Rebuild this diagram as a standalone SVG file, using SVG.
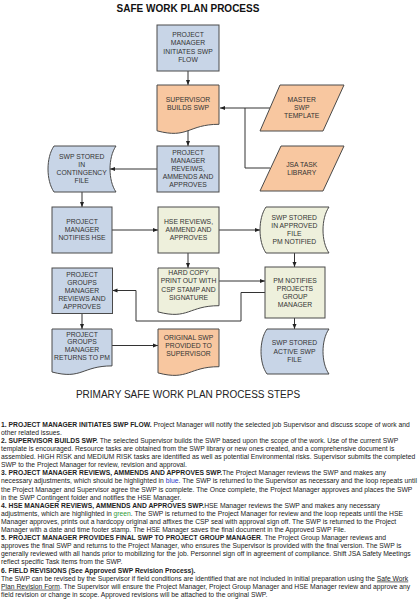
<svg xmlns="http://www.w3.org/2000/svg" width="419" height="600" viewBox="0 0 419 600">
<defs>
<marker id="ah" viewBox="0 0 10 10" refX="10" refY="5" markerWidth="5" markerHeight="5" markerUnits="userSpaceOnUse" orient="auto"><path d="M0,1 L10,5 L0,9 z" fill="#222"/></marker>
<style>
.b{fill:#c8d5e7;stroke:#4a4a4a;stroke-width:1}
.o{fill:#f8c7a0;stroke:#4a4a4a;stroke-width:1}
.g{fill:#eef0dc;stroke:#4a4a4a;stroke-width:1}
.t{font-family:"Liberation Sans",Arial,sans-serif;font-size:6.8px;fill:#333;text-anchor:middle}
.c{fill:none;stroke:#333;stroke-width:1}
.a{marker-end:url(#ah)}
.body{font-family:"Liberation Sans",Arial,sans-serif;font-size:6.75px;fill:#222;white-space:pre}
.bd{font-weight:bold}
</style>
</defs>
<rect width="419" height="600" fill="#fff"/>
<text x="188" y="11.5" font-family="Liberation Sans,Arial,sans-serif" font-size="10" font-weight="bold" fill="#111" text-anchor="middle">SAFE WORK PLAN PROCESS</text>

<g id="connectors">
<path class="c a" d="M188,71 V85"/>
<path class="c a" d="M270,108 H220"/>
<path class="c" d="M245,108 V168 H270"/>
<path class="c a" d="M188,128 V146"/>
<path class="c a" d="M157,169 H110"/>
<path class="c a" d="M82,192 V207"/>
<path class="c a" d="M112,230 H158"/>
<path class="c a" d="M219,230 H260"/>
<path class="c a" d="M188,253 V268"/>
<path class="c a" d="M294.5,253 V267"/>
<path class="c a" d="M219,281 H265"/>
<path class="c a" d="M265,292.5 H241 V321 H136 V290.5 H112.5"/>
<path class="c a" d="M82,313 V329"/>
<path class="c a" d="M112,345.5 H158"/>
<path class="c a" d="M294.5,318 V329"/>
</g>

<g id="n1">
<rect class="b" x="157" y="25" width="62" height="46"/>
<text class="t" x="188"><tspan x="188" y="37.2">PROJECT</tspan><tspan x="188" y="45.4">MANAGER</tspan><tspan x="188" y="53.6">INITIATES SWP</tspan><tspan x="188" y="61.8">FLOW</tspan></text>
</g>
<g id="n2">
<path class="o" d="M157,85 H219 V124.3 C188,124.3 188,139.2 157,130.8 Z"/>
<text class="t"><tspan x="188" y="101.5">SUPERVISOR</tspan><tspan x="188" y="109.7">BUILDS SWP</tspan></text>
</g>
<g id="n3">
<path class="o" d="M280,85 H344 L323,131 H260 Z"/>
<text class="t"><tspan x="301.7" y="101.8">MASTER</tspan><tspan x="301.7" y="110">SWP</tspan><tspan x="301.7" y="118.2">TEMPLATE</tspan></text>
</g>
<g id="n4">
<rect class="b" x="157" y="146" width="62" height="46"/>
<text class="t"><tspan x="188" y="155.2">PROJECT</tspan><tspan x="188" y="163.2">MANAGER</tspan><tspan x="188" y="171.2">REVEIWS,</tspan><tspan x="188" y="179.2">AMMENDS AND</tspan><tspan x="188" y="187.2">APPROVES</tspan></text>
</g>
<g id="n5">
<path class="b" d="M54,146 H116 C108,157.5 108,180.5 116,192 H54 C46,180.5 46,157.5 54,146 Z"/>
<text class="t"><tspan x="81.7" y="159.2">SWP STORED</tspan><tspan x="81.7" y="167.2">IN</tspan><tspan x="81.7" y="175.2">CONTINGENCY</tspan><tspan x="81.7" y="183.2">FILE</tspan></text>
</g>
<g id="n6">
<path class="o" d="M281,146 H344 L323,191 H260 Z"/>
<text class="t"><tspan x="301.7" y="167.2">JSA TASK</tspan><tspan x="301.7" y="175.2">LIBRARY</tspan></text>
</g>
<g id="n7">
<rect class="b" x="52" y="207" width="60" height="46"/>
<text class="t"><tspan x="82" y="223.5">PROJECT</tspan><tspan x="82" y="231.7">MANAGER</tspan><tspan x="82" y="239.9">NOTIFIES HSE</tspan></text>
</g>
<g id="n8">
<rect class="g" x="158" y="207" width="61" height="46"/>
<text class="t"><tspan x="188.5" y="223.5">HSE REVIEWS,</tspan><tspan x="188.5" y="231.7">AMMEND AND</tspan><tspan x="188.5" y="239.9">APPROVES</tspan></text>
</g>
<g id="n9">
<path class="g" d="M266,207 H329 C321,218.5 321,241.5 329,253 H266 C258,241.5 258,218.5 266,207 Z"/>
<text class="t"><tspan x="294.3" y="219.8">SWP STORED</tspan><tspan x="294.3" y="228">IN APPROVED</tspan><tspan x="294.3" y="236.2">FILE</tspan><tspan x="294.3" y="244.4">PM NOTIFIED</tspan></text>
</g>
<g id="n10">
<rect class="b" x="52" y="268" width="60.5" height="45.5"/>
<text class="t"><tspan x="82" y="276.5">PROJECT</tspan><tspan x="82" y="284.5">GROUPS</tspan><tspan x="82" y="292.5">MANAGER</tspan><tspan x="82" y="300.5">REVIEWS AND</tspan><tspan x="82" y="308.5">APPROVES</tspan></text>
</g>
<g id="n11">
<path class="g" d="M158,268 H219 V305.7 C188.5,305.7 188.5,320 158,311.9 Z"/>
<text class="t"><tspan x="188.5" y="275.2">HARD COPY</tspan><tspan x="188.5" y="283.4">PRINT OUT WITH</tspan><tspan x="188.5" y="291.6">CSP STAMP AND</tspan><tspan x="188.5" y="299.8">SIGNATURE</tspan></text>
</g>
<g id="n12">
<rect class="g" x="265" y="267" width="60" height="51"/>
<text class="t"><tspan x="295" y="282.5">PM NOTIFIES</tspan><tspan x="295" y="290.5">PROJECTS</tspan><tspan x="295" y="298.5">GROUP</tspan><tspan x="295" y="306.5">MANAGER</tspan></text>
</g>
<g id="n13">
<path class="b" d="M52,329 H112 V365.9 C82,365.9 82,379.9 52,372 Z"/>
<text class="t"><tspan x="82" y="336.5">PROJECT</tspan><tspan x="82" y="344.2">GROUPS</tspan><tspan x="82" y="352.2">MANAGER</tspan><tspan x="82" y="360.2">RETURNS TO PM</tspan></text>
</g>
<g id="n14">
<path class="o" d="M158,329 H219 V366.7 C188.5,366.7 188.5,381 158,372.9 Z"/>
<text class="t"><tspan x="188.5" y="339.8">ORIGINAL SWP</tspan><tspan x="188.5" y="348.2">PROVIDED TO</tspan><tspan x="188.5" y="356.2">SUPERVISOR</tspan></text>
</g>
<g id="n15">
<path class="b" d="M267,329 H329 C321,340 321,363 329,374 H267 C259,363 259,340 267,329 Z"/>
<text class="t"><tspan x="294.5" y="345.2">SWP STORED</tspan><tspan x="294.5" y="353.5">ACTIVE SWP</tspan><tspan x="294.5" y="361.5">FILE</tspan></text>
</g>

<text x="188" y="398" font-family="Liberation Sans,Arial,sans-serif" font-size="10" fill="#222" text-anchor="middle">PRIMARY SAFE WORK PLAN PROCESS STEPS</text>

<g id="steps" class="body">
<text x="1" y="426.7"><tspan class="bd">1.  PROJECT MANAGER  INITIATES SWP FLOW.</tspan> Project Manager will notify the selected job Supervisor and discuss scope of work and</text>
<text x="1" y="434.8">other related issues.</text>
<text x="1" y="442.9"><tspan class="bd">2.  SUPERVISOR BUILDS SWP.</tspan> The selected Supervisor builds the SWP based upon the scope of the work. Use of the current SWP</text>
<text x="1" y="451">template is encouraged. Resource tasks are obtained from the SWP library or new ones created, and a comprehensive document is</text>
<text x="1" y="459.1">assembled. HIGH RISK and MEDIUM RISK tasks are identified as well as potential Environmental risks. Supervisor submits the completed</text>
<text x="1" y="467.2">SWP to the Project Manager for review, revision and approval.</text>
<text x="1" y="475.3"><tspan class="bd">3.  PROJECT MANAGER REVIEWS, AMMENDS AND APPROVES SWP.</tspan>The Project Manager reviews the SWP and makes any</text>
<text x="1" y="483.4">necessary adjustments, which should be highlighted in <tspan fill="#2b35c8">blue</tspan>. The SWP is returned to the Supervisor as necessary and the loop repeats until</text>
<text x="1" y="491.5">the Project Manager and Supervisor agree the SWP is complete. The Once complete, the Project Manager approves and places the SWP</text>
<text x="1" y="499.6">in the SWP Contingent folder and notifies the HSE Manager.</text>
<text x="1" y="507.7"><tspan class="bd">4.  HSE MANAGER REVIEWS, AMMENDS AND APPROVES SWP.</tspan>HSE Manager reviews the SWP and makes any necessary</text>
<text x="1" y="515.8">adjustments, which are highlighted in <tspan fill="#2f9a3a">green</tspan>. The SWP is returned to the Project Manager for review and the loop repeats until the HSE</text>
<text x="1" y="523.9">Manager approves, prints out a hardcopy original and affixes the CSP seal with approval sign off. The SWP is returned to the Project</text>
<text x="1" y="532">Manager with a date and time footer stamp. The HSE Manager saves the final document in the Approved SWP File.</text>
<text x="1" y="540.1"><tspan class="bd">5.  PROJECT MANAGER  PROVIDES FINAL SWP TO PROJECT GROUP MANAGER</tspan>. The Project Group Manager reviews and</text>
<text x="1" y="548.2">approves the final SWP and returns to the Project Manager, who ensures the Supervisor is provided with the final version. The SWP is</text>
<text x="1" y="556.3">generally reviewed with all hands prior to mobilizing for the job. Personnel sign off in agreement of compliance.  Shift JSA Safety Meetings</text>
<text x="1" y="564.4">reflect specific Task items from the SWP.</text>
<text x="1" y="572.5" class="bd">6.  FIELD REVISIONS (See Approved SWP Revision Process).</text>
<text x="1" y="580.6">The SWP can be revised by the Supervisor if field conditions are identified that are not included in initial preparation using the <tspan text-decoration="underline">Safe Work</tspan></text>
<text x="1" y="588.7"><tspan text-decoration="underline">Plan Revision Form</tspan>. The Supervisor will ensure the Project Manager, Project Group Manager and HSE Manager review and approve any</text>
<text x="1" y="596.8">field revision or change in scope. Approved revisions will be attached to the original SWP.</text>
</g>
</svg>
